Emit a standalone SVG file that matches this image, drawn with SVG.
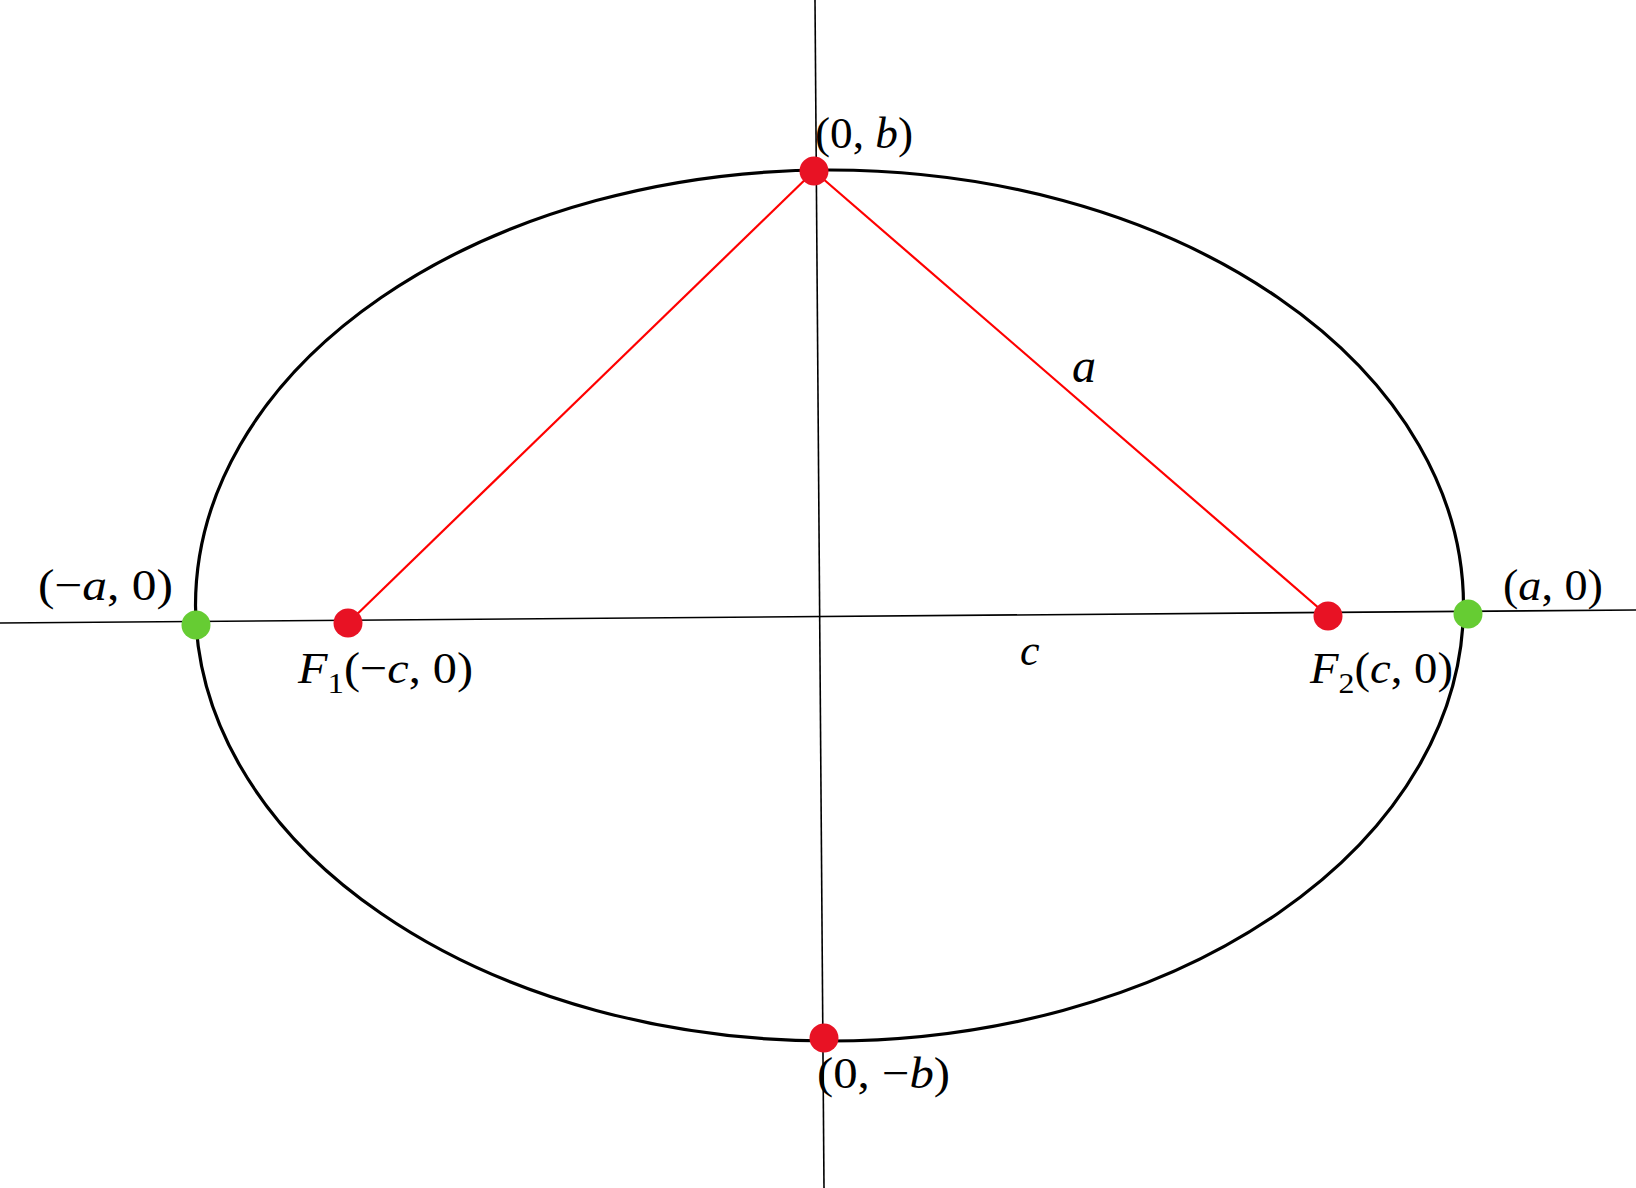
<svg xmlns="http://www.w3.org/2000/svg" width="1636" height="1188" viewBox="0 0 1636 1188">
<style>
.axis{stroke:#000;stroke-width:1.6;fill:none}
.ell{stroke:#000;stroke-width:3.2;fill:none}
.seg{stroke:#ff0000;stroke-width:2.2;fill:none}
.red{fill:#e81224}
.green{fill:#66cc33}
text{font-family:"Liberation Serif","DejaVu Serif",serif;font-size:44px;fill:#000}
.v{font-style:italic}
.sub{font-size:30px}
.big{font-size:48px}
</style>
<rect width="1636" height="1188" fill="#fff"/>
<g id="axes">
<line class="axis" x1="0" y1="623" x2="1636" y2="610"/>
<line class="axis" x1="815" y1="0" x2="824" y2="1188"/>
</g>
<g id="ellipse">
<ellipse class="ell" cx="829.5" cy="605.5" rx="634" ry="435.5"/>
</g>
<g id="connectors">
<line class="seg" x1="814" y1="171" x2="348" y2="623"/>
<line class="seg" x1="814" y1="171" x2="1328" y2="616"/>
</g>
<g id="node-top">
<circle class="red" cx="814" cy="171" r="14.5"/>
<text x="815" y="148" textLength="98" lengthAdjust="spacingAndGlyphs">(0, <tspan class="v">b</tspan>)</text>
</g>
<g id="node-bottom">
<circle class="red" cx="824" cy="1038" r="14.5"/>
<text x="817" y="1088" textLength="133" lengthAdjust="spacingAndGlyphs">(0, −<tspan class="v">b</tspan>)</text>
</g>
<g id="node-left">
<circle class="green" cx="196" cy="625" r="14.5"/>
<text x="38" y="600" textLength="135" lengthAdjust="spacingAndGlyphs">(−<tspan class="v">a</tspan>, 0)</text>
</g>
<g id="node-right">
<circle class="green" cx="1468" cy="614" r="14.5"/>
<text x="1503" y="600" textLength="100" lengthAdjust="spacingAndGlyphs">(<tspan class="v">a</tspan>, 0)</text>
</g>
<g id="node-f1">
<circle class="red" cx="348" cy="623" r="14.5"/>
<text x="298" y="683" textLength="175" lengthAdjust="spacingAndGlyphs"><tspan class="v">F</tspan><tspan class="sub" dy="10">1</tspan><tspan dy="-10">(−</tspan><tspan class="v">c</tspan>, 0)</text>
</g>
<g id="node-f2">
<circle class="red" cx="1328" cy="616" r="14.5"/>
<text x="1310" y="683" textLength="143" lengthAdjust="spacingAndGlyphs"><tspan class="v">F</tspan><tspan class="sub" dy="10">2</tspan><tspan dy="-10">(</tspan><tspan class="v">c</tspan>, 0)</text>
</g>
<g id="labels">
<text class="v big" x="1072" y="382">a</text>
<text class="v" x="1020" y="665">c</text>
</g>
</svg>
